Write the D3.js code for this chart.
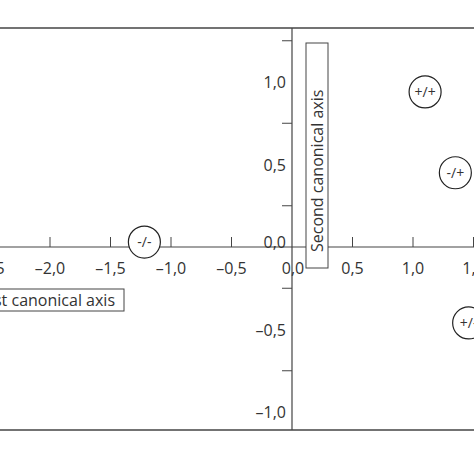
<!DOCTYPE html><html><head><meta charset="utf-8"><script src="https://cdn.jsdelivr.net/npm/d3@7"></script>
<style>body{margin:0;background:#fff}text{font-family:"Open Sans",Lato,sans-serif;fill:#333}</style></head><body><svg width="474" height="474"></svg>
<script>
const labels=["-/-","+/+","-/+","+/-"];
const xs=[-1.22,1.10,1.35,1.46];
const ys=[0.03,0.94,0.45,-0.46];
const xTicks=[-2.5,-2,-1.5,-1,-0.5,0,0.5,1,1.5];
const yLabels=[1,0.5,0,-0.5,-1];
const yTicks=[1.25,0.75,0.25,-0.25,-0.75];
const svg=d3.select("svg");
const x=d3.scaleLinear().domain([0,1]).range([292,413]);
const y=d3.scaleLinear().domain([0,1]).range([247,82]);
const fmt=d=>d.toFixed(1).replace(".",",").replace("-","\u2013");
const c="#444";
svg.append("line").attr("x1",0).attr("x2",474).attr("y1",28).attr("y2",28).attr("stroke",c).attr("stroke-width",1.5);
svg.append("line").attr("x1",0).attr("x2",474).attr("y1",430).attr("y2",430).attr("stroke",c).attr("stroke-width",1.5);
svg.append("line").attr("x1",0).attr("x2",474).attr("y1",y(0)).attr("y2",y(0)).attr("stroke",c).attr("stroke-width",1.2);
svg.append("line").attr("x1",x(0)).attr("x2",x(0)).attr("y1",28).attr("y2",430).attr("stroke",c).attr("stroke-width",1.2);
xTicks.filter(d=>d!==0).forEach(d=>{
 svg.append("line").attr("x1",x(d)).attr("x2",x(d)).attr("y1",y(0)).attr("y2",y(0)-10).attr("stroke",c);
});
xTicks.forEach(d=>{
 svg.append("text").attr("x",x(d)+(d===0?1:0)).attr("y",y(0)+27).attr("text-anchor","middle").attr("font-size",16).text(fmt(d));
});
yTicks.forEach(d=>svg.append("line").attr("x1",x(0)-10).attr("x2",x(0)).attr("y1",y(d)).attr("y2",y(d)).attr("stroke",c));
yLabels.forEach(d=>svg.append("text").attr("x",x(0)-6).attr("y",y(d)+(d===0?1:6)).attr("text-anchor","end").attr("font-size",16).text(d===0?"0,0":fmt(d)));
svg.append("rect").attr("x",306).attr("y",43).attr("width",22).attr("height",225).attr("fill","#fff").attr("stroke",c);
svg.append("text").attr("transform","translate(323,252) rotate(-90)").attr("text-anchor","start").attr("font-size",16).text("Second canonical axis");
svg.append("rect").attr("x",-80).attr("y",289).attr("width",204).attr("height",22).attr("fill","#fff").attr("stroke",c);
svg.append("text").attr("x",115).attr("y",306).attr("text-anchor","end").attr("font-size",16).text("First canonical axis");
const g=svg.selectAll("g.p").data(labels).join("g").attr("transform",(d,i)=>`translate(${x(xs[i])},${y(ys[i])})`);
g.append("circle").attr("r",16).attr("fill","#fff").attr("stroke","#222").attr("stroke-width",1.2);
g.append("text").attr("text-anchor","middle").attr("y",5).attr("font-size",14).text(d=>d);
</script></body></html>
